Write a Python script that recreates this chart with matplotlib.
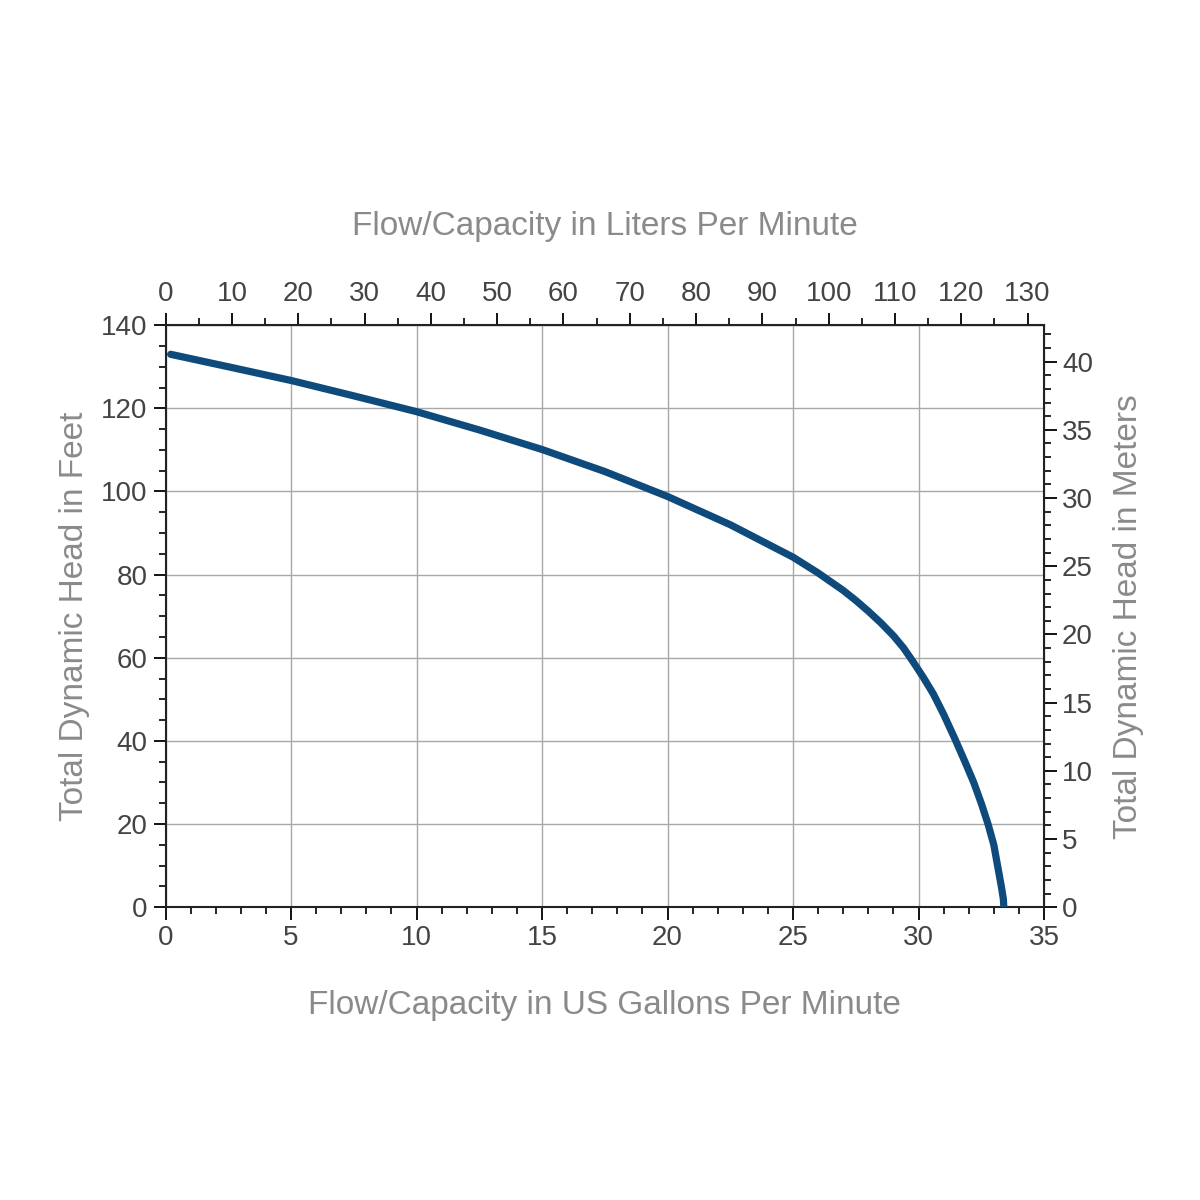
import matplotlib
matplotlib.use("Agg")
import matplotlib.pyplot as plt
from matplotlib.ticker import FixedLocator, MultipleLocator

# pump curve
gpm = [0.2, 2.5, 5, 7.5, 10, 12.5, 15, 17.5, 20, 22.5, 25, 26, 27, 27.5, 28,
       28.5, 29, 29.4, 29.8, 30.2, 30.6, 31, 31.45, 31.85, 32.2, 32.5, 32.77,
       33.0, 33.15, 33.3, 33.38, 33.4]
head_ft = [133, 130, 126.7, 123, 119.2, 114.8, 110.1, 104.8, 98.8, 92, 84.2,
           80.4, 76.2, 73.8, 71.2, 68.4, 65.3, 62.4, 58.9, 55.2, 51.2, 46.4,
           40.5, 35, 30, 25, 20, 15, 10, 5, 2, 0]

lpm_ticks = list(range(0, 131, 10))
meter_ticks = list(range(0, 41, 5))

GAL_TO_L = 3.785
FT_TO_M = 0.3048

plt.rcParams['font.family'] = ['Liberation Sans', 'DejaVu Sans']

fig = plt.figure(figsize=(12, 12), dpi=100)
ax = fig.add_axes([0.138, 0.244, 0.732, 0.485])

ax.plot(gpm, head_ft, color='#0f4a7c', lw=5.2, solid_capstyle='round',
        solid_joinstyle='round', zorder=3)
ax.set_xlim(0, 35)
ax.set_ylim(0, 140)
ax.xaxis.set_major_locator(MultipleLocator(5))
ax.xaxis.set_minor_locator(MultipleLocator(1))
ax.yaxis.set_major_locator(MultipleLocator(20))
ax.yaxis.set_minor_locator(MultipleLocator(5))
ax.grid(True, which='major', color='#a8a8a8', lw=1)

tick_col = '#444444'
lab_col = '#8a8a8a'
ax.tick_params(which='major', length=9, width=1.3, labelsize=20, labelcolor=tick_col, pad=4)
ax.tick_params(which='minor', length=5, width=1.2)
for s in ax.spines.values():
    s.set_linewidth(1.5)
    s.set_color('#222222')

ax.set_xlabel('Flow/Capacity in US Gallons Per Minute', fontsize=24, color=lab_col, labelpad=28)
ax.set_ylabel('Total Dynamic Head in Feet', fontsize=24, color=lab_col, labelpad=8)

top = ax.secondary_xaxis('top', functions=(lambda x: x * GAL_TO_L, lambda x: x / GAL_TO_L))
top.xaxis.set_major_locator(FixedLocator(lpm_ticks))
top.xaxis.set_minor_locator(FixedLocator(range(5, 131, 10)))
top.tick_params(which='major', length=9, width=1.3, labelsize=20, labelcolor=tick_col, pad=4)
top.tick_params(which='minor', length=5, width=1.2)
top.set_xlabel('Flow/Capacity in Liters Per Minute', fontsize=24, color=lab_col, labelpad=33)

right = ax.secondary_yaxis('right', functions=(lambda y: y * FT_TO_M, lambda y: y / FT_TO_M))
right.yaxis.set_major_locator(FixedLocator(meter_ticks))
right.yaxis.set_minor_locator(FixedLocator([m for m in range(0, 43) if m % 5]))
right.tick_params(which='major', length=9, width=1.3, labelsize=20, labelcolor=tick_col, pad=4)
right.tick_params(which='minor', length=5, width=1.2)
right.set_ylabel('Total Dynamic Head in Meters', fontsize=24, color=lab_col, labelpad=14)

fig.savefig('out.png', dpi=100)
